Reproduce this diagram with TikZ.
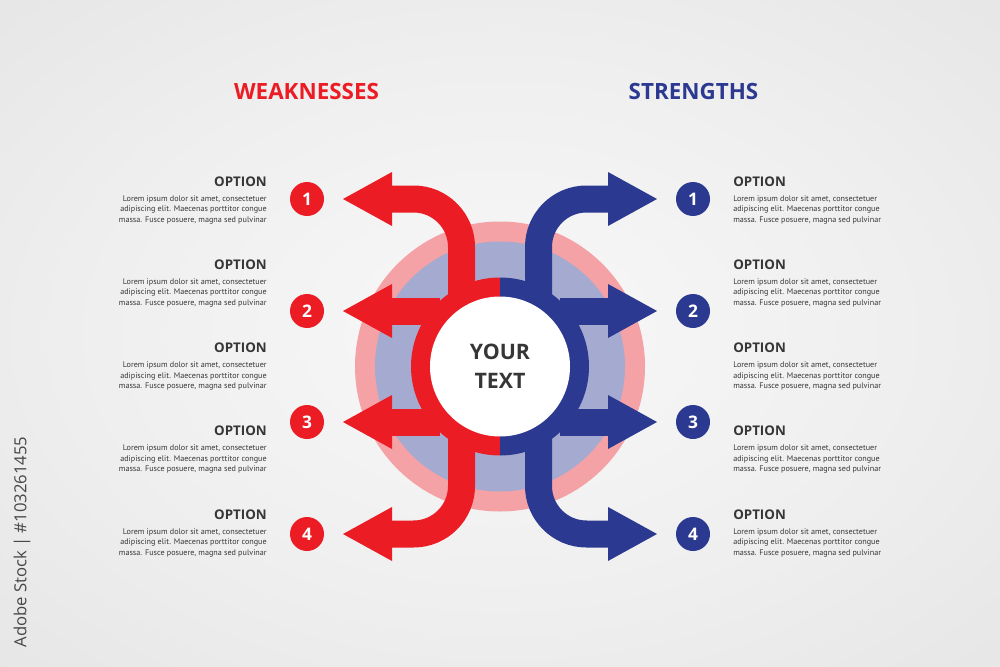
\documentclass[tikz,border=0pt]{standalone}
\usepackage{fontspec}
\setmainfont{Open Sans}
\newfontfamily\bodyfont{PT Sans}
\definecolor{wred}{HTML}{EC1C24}
\definecolor{sblue}{HTML}{2B3990}
\definecolor{pinkc}{HTML}{F4A2A6}
\definecolor{lavc}{HTML}{A5ABD0}
\definecolor{txt}{HTML}{363636}
\definecolor{bgin}{HTML}{F8F8F8}
\definecolor{bgmid}{HTML}{EFEFEF}
\definecolor{bgout}{HTML}{D2D2D2}
\pgfdeclareradialshading{bgshade}{\pgfpoint{0bp}{0bp}}{color(0bp)=(bgin); color(20bp)=(bgmid); color(72bp)=(bgout)}
\tikzset{
  shaftR/.style={draw=wred, line width=20.25pt},
  shaftB/.style={draw=sblue, line width=20.25pt},
  numR/.style={circle, fill=wred, minimum size=25.5pt, inner sep=0pt, text=white, font=\bfseries\fontsize{13}{13}\selectfont},
  numB/.style={circle, fill=sblue, minimum size=25.5pt, inner sep=0pt, text=white, font=\bfseries\fontsize{13}{13}\selectfont},
  opt/.style={inner sep=0pt, text=txt, font=\bfseries\fontsize{10}{10}\selectfont},
  lorem/.style={inner sep=0pt, text=txt, font=\bodyfont\fontsize{6.1}{6.1}\selectfont},
  head/.style={inner sep=0pt, font=\bfseries\fontsize{16.8}{16.8}\selectfont}
}
\begin{document}
\begin{tikzpicture}[x=0.75pt, y=-0.75pt]
\useasboundingbox (0,0) rectangle (1000,667);
\shade[shading=bgshade] (0,0) rectangle (1000,667);

% side stamp
\node[rotate=90, inner sep=0pt, text=black!72, font=\fontsize{12.5}{12.5}\selectfont] (stamp) at (22,542) {Adobe Stock | \#103261455};

% headers
\node[head, text=wred] (weak) at (306.5,91) {WEAKNESSES};
\node[head, text=sblue] (strong) at (693.5,91) {STRENGTHS};

% background discs
\node[circle, fill=pinkc, minimum size=217.5pt, inner sep=0pt] (outer) at (500,366.5) {};
\node[circle, fill=lavc, minimum size=187.5pt, inner sep=0pt] (inner) at (500,366.5) {};

% ring halves
\begin{scope}
  \clip (380,250) rectangle (500,480);
  \fill[wred] (inner.center) circle[radius=89];
\end{scope}
\begin{scope}
  \clip (500,250) rectangle (620,480);
  \fill[sblue] (inner.center) circle[radius=89];
\end{scope}

% red arrows (weaknesses)
\draw[shaftR, rounded corners=36pt] (388,199) -- (461.5,199) -- (461.5,300);
\draw[shaftR] (388,311) -- (440,311);
\draw[shaftR] (388,422) -- (440,422);
\draw[shaftR, rounded corners=36pt] (388,534) -- (461.5,534) -- (461.5,433);
\foreach \y in {199,311,422,534}{
  \fill[wred] (343,\y) -- (392,{\y-27}) -- (392,{\y+27}) -- cycle;
}
% blue arrows (strengths)
\draw[shaftB, rounded corners=36pt] (612,199) -- (538.5,199) -- (538.5,300);
\draw[shaftB] (612,311) -- (560,311);
\draw[shaftB] (612,422) -- (560,422);
\draw[shaftB, rounded corners=36pt] (612,534) -- (538.5,534) -- (538.5,433);
\foreach \y in {199,311,422,534}{
  \fill[sblue] (657,\y) -- (608,{\y-27}) -- (608,{\y+27}) -- cycle;
}

% centre
\node[circle, fill=white, minimum size=105pt, inner sep=0pt, align=center, text=txt,
      font=\bfseries\fontsize{16}{21.75}\selectfont] (centre) at (500,366.5) {YOUR\\TEXT};

% numbers
\foreach \y/\n in {199/1,311/2,422/3,534/4}{
  \node[numR] (nl\n) at (307,\y) {\n};
  \node[numB] (nr\n) at (693,\y) {\n};
}

% text blocks
\foreach \k in {0,...,4}{
  \pgfmathsetmacro{\yy}{181+83.25*\k}
  \node[opt, anchor=base east] (optL\k) at (267,{\yy+5}) {OPTION};
  \node[lorem, anchor=base east] (la\k) at (267,{\yy+20}) {Lorem ipsum dolor sit amet, consectetuer};
  \node[lorem, anchor=base east] (lb\k) at (267,{\yy+30.5}) {adipiscing elit. Maecenas porttitor congue};
  \node[lorem, anchor=base east] (lc\k) at (267,{\yy+41}) {massa. Fusce posuere, magna sed pulvinar};
  \node[opt, anchor=base west] (optR\k) at (733,{\yy+5}) {OPTION};
  \node[lorem, anchor=base west] (ra\k) at (733,{\yy+20}) {Lorem ipsum dolor sit amet, consectetuer};
  \node[lorem, anchor=base west] (rb\k) at (733,{\yy+30.5}) {adipiscing elit. Maecenas porttitor congue};
  \node[lorem, anchor=base west] (rc\k) at (733,{\yy+41}) {massa. Fusce posuere, magna sed pulvinar};
}
\end{tikzpicture}
\end{document}
